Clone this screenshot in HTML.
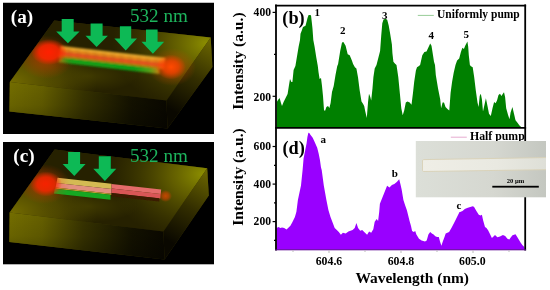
<!DOCTYPE html>
<html><head><meta charset="utf-8"><style>
html,body{margin:0;padding:0;background:#fff;width:550px;height:290px;overflow:hidden}
svg{display:block}
text{font-family:"Liberation Serif","Times New Roman",serif}
</style></head><body>
<svg width="550" height="290" viewBox="0 0 550 290">
<defs>
<clipPath id="cpa"><rect x="3" y="2.5" width="211" height="131.5"/></clipPath>
<clipPath id="cpc"><rect x="3" y="142" width="211" height="122.6"/></clipPath>
<filter id="bl1" x="-10%" y="-10%" width="120%" height="120%"><feGaussianBlur stdDeviation="0.6"/></filter>
<filter id="blr" x="-10%" y="-30%" width="120%" height="160%"><feGaussianBlur stdDeviation="0.9"/></filter>
<filter id="blr2" x="-10%" y="-30%" width="120%" height="160%"><feGaussianBlur stdDeviation="0.5"/></filter>
<filter id="bl2" x="-50%" y="-50%" width="200%" height="200%"><feGaussianBlur stdDeviation="2.5"/></filter>
<filter id="bl3" x="-10%" y="-10%" width="120%" height="120%"><feGaussianBlur stdDeviation="1.5"/></filter>
<radialGradient id="glh"><stop offset="0" stop-color="#ff3000" stop-opacity="0.5"/><stop offset="1" stop-color="#ff3000" stop-opacity="0"/></radialGradient>
<radialGradient id="glh2"><stop offset="0" stop-color="#ff4800" stop-opacity="0.5"/><stop offset="1" stop-color="#ff4800" stop-opacity="0"/></radialGradient>
<radialGradient id="glr"><stop offset="0" stop-color="#ff2000" stop-opacity="1"/><stop offset="0.55" stop-color="#ff2400" stop-opacity="0.85"/><stop offset="1" stop-color="#ff2800" stop-opacity="0"/></radialGradient>
<radialGradient id="glo"><stop offset="0" stop-color="#ff4a00" stop-opacity="1"/><stop offset="0.5" stop-color="#ff4000" stop-opacity="0.7"/><stop offset="1" stop-color="#ff4000" stop-opacity="0"/></radialGradient>
<linearGradient id="ins" x1="0" y1="0" x2="1" y2="0">
 <stop offset="0" stop-color="#dcdfd8"/><stop offset="0.6" stop-color="#d5d7d0"/><stop offset="1" stop-color="#c4c7c0"/>
</linearGradient>
<linearGradient id="irod" x1="0" y1="0" x2="1" y2="0">
 <stop offset="0" stop-color="#efeee6"/><stop offset="0.6" stop-color="#e9e9e1"/><stop offset="1" stop-color="#dedfd7"/>
</linearGradient>

<radialGradient id="hiA"><stop offset="0" stop-color="#8c8e00" stop-opacity="1"/><stop offset="0.35" stop-color="#6e6a00" stop-opacity="0.8"/><stop offset="1" stop-color="#4a4400" stop-opacity="0"/></radialGradient>
<radialGradient id="hiB"><stop offset="0" stop-color="#726a00" stop-opacity="1"/><stop offset="0.55" stop-color="#5a5200" stop-opacity="0.75"/><stop offset="1" stop-color="#4a4400" stop-opacity="0"/></radialGradient>
<radialGradient id="hiC"><stop offset="0" stop-color="#4e4800" stop-opacity="0.6"/><stop offset="1" stop-color="#4e4800" stop-opacity="0"/></radialGradient>
<linearGradient id="fa" gradientUnits="userSpaceOnUse" x1="9" y1="0" x2="167" y2="0">
 <stop offset="0" stop-color="#746e00"/><stop offset="0.21" stop-color="#666000"/><stop offset="0.47" stop-color="#383400"/><stop offset="0.78" stop-color="#141200"/><stop offset="1" stop-color="#0a0800"/>
</linearGradient>
<linearGradient id="raa" gradientUnits="userSpaceOnUse" x1="212.7" y1="42.6" x2="172.5" y2="110.5">
 <stop offset="0" stop-color="#6a6500"/><stop offset="0.5" stop-color="#332e00"/><stop offset="1" stop-color="#0a0800"/></linearGradient>
<linearGradient id="fva" gradientUnits="userSpaceOnUse" x1="0" y1="82" x2="0" y2="128.5">
 <stop offset="0" stop-color="#000" stop-opacity="0"/><stop offset="0.5" stop-color="#000" stop-opacity="0.1"/><stop offset="1" stop-color="#000" stop-opacity="0.35"/></linearGradient><linearGradient id="rac" gradientUnits="userSpaceOnUse" x1="209.2" y1="173.2" x2="169.6" y2="241.5">
 <stop offset="0" stop-color="#6a6500"/><stop offset="0.5" stop-color="#332e00"/><stop offset="1" stop-color="#0a0800"/></linearGradient>
<linearGradient id="fvc" gradientUnits="userSpaceOnUse" x1="0" y1="212.5" x2="0" y2="259.5">
 <stop offset="0" stop-color="#000" stop-opacity="0"/><stop offset="0.5" stop-color="#000" stop-opacity="0.1"/><stop offset="1" stop-color="#000" stop-opacity="0.35"/></linearGradient>
<linearGradient id="grA" gradientUnits="userSpaceOnUse" x1="60" y1="0" x2="160" y2="0">
 <stop offset="0" stop-color="#7a9010"/><stop offset="0.08" stop-color="#16a018"/><stop offset="0.75" stop-color="#109c14"/><stop offset="0.92" stop-color="#60a016"/><stop offset="1" stop-color="#c08810"/>
</linearGradient>

</defs>
<rect width="550" height="290" fill="#fff"/>

<!-- ============ Panel (a) ============ -->
<g clip-path="url(#cpa)">
<rect x="3" y="2.5" width="211" height="131.5" fill="#000"/>

<clipPath id="sila"><polygon points="54.3,20.5 210.7,37.6 212.4,67.0 167.5,128.5 9.4,111.5 9.8,82.0"/></clipPath>
<polygon points="54.3,20.5 210.7,37.6 212.4,67.0 167.5,128.5 9.4,111.5 9.8,82.0" fill="#3a3400"/>
<clipPath id="tca"><polygon points="54.3,20.5 210.7,37.6 166.5,100.6 9.8,82.0"/></clipPath>
<polygon points="54.3,20.5 210.7,37.6 166.5,100.6 9.8,82.0" fill="#262100"/>
<g clip-path="url(#tca)">
 <ellipse cx="206.7" cy="43.6" rx="95" ry="70" fill="url(#hiA)"/>
 <ellipse cx="12" cy="82" rx="85" ry="50" fill="url(#hiB)"/>
 <ellipse cx="88" cy="76" rx="50" ry="16" fill="url(#hiC)"/>
</g>
<polygon points="9.8,82.0 166.5,100.6 167.5,128.5 9.4,111.5" fill="url(#fa)"/>
<polygon points="9.8,82.0 166.5,100.6 167.5,128.5 9.4,111.5" fill="url(#fva)"/>
<polygon points="166.5,100.6 210.7,37.6 212.4,67.0 167.5,128.5" fill="url(#raa)"/>

<g filter="url(#blr)">
<polygon points="60.50,46.00 165.50,58.08 165.25,60.55 59.88,48.43" fill="#f2b030"/>
<polygon points="59.88,48.43 165.25,60.55 164.95,63.51 59.12,51.34" fill="#ea8c1c"/>
<polygon points="59.12,51.34 164.95,63.51 164.55,67.47 58.12,55.23" fill="#e4541e"/>
<polygon points="58.12,55.23 164.55,67.47 164.38,69.15 57.70,56.88" fill="#c8800e"/>
<polygon points="59.70,57.11 159.50,68.58 159.50,73.88 58.38,62.26" fill="url(#grA)"/>
</g>
<g clip-path="url(#sila)">
<ellipse cx="46" cy="57" rx="28" ry="22" fill="url(#glh)"/>
<ellipse cx="172" cy="67" rx="24" ry="19" fill="url(#glh2)"/>
<ellipse cx="49" cy="52" rx="18" ry="13" fill="url(#glr)"/>
<ellipse cx="171" cy="67" rx="15" ry="12.5" fill="url(#glo)"/>
</g>
<g filter="url(#bl1)">
<polygon points="61.7,19.1 73.7,19.1 73.7,31.5 79.6,31.5 67.9,43.2 56.2,31.5 61.7,31.5" fill="#08b955"/>
<polygon points="90.6,23.5 102.6,23.5 102.6,35.7 107.9,35.7 96.6,47 85.5,35.7 90.6,35.7" fill="#08b955"/>
<polygon points="119.9,26.2 131.2,26.2 131.2,38.6 137,38.6 125.7,50.6 114.4,38.6 119.9,38.6" fill="#08b955"/>
<polygon points="146,29.6 157.6,29.6 157.6,41.8 164.2,41.8 152.9,53.7 141.5,41.8 146,41.8" fill="#08b955"/>
</g>
<text x="10.8" y="22.6" font-size="19.2" font-weight="bold" fill="#fff">(a)</text>
<text x="130" y="21.9" font-size="19.1" fill="#1db45c">532 nm</text>
</g>

<!-- ============ Panel (c) ============ -->
<g clip-path="url(#cpc)">
<rect x="3" y="142" width="211" height="122.6" fill="#000"/>

<clipPath id="silc"><polygon points="54.6,149.6 207.2,168.2 208.8,195.5 164.6,259.5 9.3,242.0 9.6,212.5"/></clipPath>
<polygon points="54.6,149.6 207.2,168.2 208.8,195.5 164.6,259.5 9.3,242.0 9.6,212.5" fill="#3a3400"/>
<clipPath id="tcc"><polygon points="54.6,149.6 207.2,168.2 163.4,231.6 9.6,212.5"/></clipPath>
<polygon points="54.6,149.6 207.2,168.2 163.4,231.6 9.6,212.5" fill="#262100"/>
<g clip-path="url(#tcc)">
 <ellipse cx="203.2" cy="174.2" rx="95" ry="70" fill="url(#hiA)"/>
 <ellipse cx="12" cy="212.3" rx="85" ry="50" fill="url(#hiB)"/>
 <ellipse cx="88" cy="206.3" rx="50" ry="16" fill="url(#hiC)"/>
</g>
<polygon points="9.6,212.5 163.4,231.6 164.6,259.5 9.3,242.0" fill="url(#fa)"/>
<polygon points="9.6,212.5 163.4,231.6 164.6,259.5 9.3,242.0" fill="url(#fvc)"/>
<polygon points="163.4,231.6 207.2,168.2 208.8,195.5 164.6,259.5" fill="url(#rac)"/>

<g filter="url(#blr2)">
<polygon points="57.50,177.80 111.50,183.74 111.50,188.94 56.46,182.89" fill="#d4ba52"/>
<polygon points="56.46,182.89 111.50,188.94 111.50,193.74 55.50,187.58" fill="#e2907e"/>
<polygon points="55.50,187.58 111.50,193.74 111.50,194.94 55.26,188.75" fill="#b8a030"/>
<polygon points="54.76,188.70 110.50,194.83 110.50,199.63 53.80,193.39" fill="#14a820"/>
<polygon points="111.50,183.94 161.18,189.40 160.72,193.95 111.50,188.54" fill="#e46c6a"/>
<polygon points="111.50,188.54 160.72,193.95 160.27,198.40 111.50,193.04" fill="#d85656"/>
<polygon points="111.50,193.04 159.20,198.29 159.20,201.49 111.50,196.24" fill="#3a1a00"/>
</g>
<g clip-path="url(#silc)">
<ellipse cx="44" cy="184" rx="26" ry="20" fill="url(#glh)"/>
<ellipse cx="46" cy="184" rx="16" ry="12.5" fill="url(#glr)" opacity="0.9"/>
<ellipse cx="165.5" cy="196" rx="6.5" ry="6" fill="url(#glo)" opacity="0.65"/>
</g>
<g filter="url(#bl1)">
<polygon points="68.1,151.9 80.1,151.9 80.1,164 85.6,164 74.3,176 62.6,164 68.1,164" fill="#08b955"/>
<polygon points="98.8,156.3 110.8,156.3 110.8,168.7 116.3,168.7 104.9,181.1 93.3,168.7 98.8,168.7" fill="#08b955"/>
</g>
<text x="13.3" y="161.8" font-size="19.2" font-weight="bold" fill="#fff">(c)</text>
<text x="130" y="162.2" font-size="19.1" fill="#1db45c">532 nm</text>
</g>

<!-- ============ Plot (b) ============ -->
<path d="M276.5,128 L276.8,102 L278,100 L279.6,98 L281,103 L282,106 L283.6,102 L285.6,98 L287.6,94 L289,85 L290,79 L291.4,82 L292.4,82 L293.6,70 L295.4,66 L298.6,46.7 L300,40 L300.5,33.8 L301.7,30.7 L303,27 L305.5,25.7 L306.5,22 L307.5,18 L308.6,15 L309.6,14.9 L311,15.2 L312,24 L312.5,28.8 L313.3,40 L314.6,46.7 L316.3,57.4 L317.8,66 L318.5,72 L319.6,79 L321,78 L322,86 L323,96 L324,110 L325,111 L326.4,107 L328,106 L329.4,108 L330.6,103 L332,92 L333.7,86 L335.5,75 L337.2,66.2 L338.1,64 L340.2,51 L342,42.5 L343.4,42 L345.6,45.7 L347.7,54.2 L349.7,55.3 L351.9,60.6 L353.1,64 L354.9,67.3 L356.4,68.4 L358,77.2 L359.7,90.5 L361.5,101.5 L363,103.7 L364.2,106 L365.3,111.5 L366.8,118.1 L368.1,101.5 L369,93.8 L370.3,97.1 L371.2,100.4 L372.5,88.3 L373.4,77.2 L374.7,68.4 L376.5,65 L380.1,51 L381.2,36 L382.3,23.2 L383.5,19.5 L385.5,18.8 L387.2,19.8 L388.7,25.4 L390.2,33.9 L391.9,44.6 L392.4,53.1 L393.4,61.7 L395.1,63.8 L396.5,65 L398.3,77.2 L399.8,92.7 L401.3,108.2 L402.7,115.2 L404.2,110.4 L405.8,102.6 L407.5,101.5 L409.7,102.6 L411.5,104.8 L413,92.7 L414.2,81.7 L415.9,70.6 L417,67.3 L418.6,66.2 L420.1,65 L422.3,55.3 L424.4,52.1 L426.5,51.4 L428.7,46.7 L430.2,43.5 L431.5,45.7 L433,55.3 L434,61.7 L435,65 L435.8,75 L438,88.3 L440.2,99.3 L441.1,108.2 L442.6,102.6 L444,102.6 L445.5,107 L447.7,109.3 L449.3,110.4 L450.6,92.7 L452.1,81.7 L453.7,72.8 L455.5,65 L457.1,60.6 L459.2,58.5 L460.9,52.1 L462.4,47.8 L463.9,48.9 L465.2,45.7 L467.4,41.4 L468.2,46.7 L468.8,55.3 L469.9,65 L470.9,66.2 L472.7,67.3 L474.2,77.2 L475.8,90.5 L477.5,102.6 L478.6,107 L479.7,96 L480.8,93.8 L481.9,99.3 L483,111.5 L484.2,106 L485.9,98.2 L487.5,106 L489,113.7 L490.8,115.9 L492.5,108.2 L494.1,102 L495.6,103.3 L497,100.4 L498.5,94.9 L500,93.8 L501.4,96 L502.9,93.8 L504,92.3 L505.1,97.1 L506.2,108.2 L508,114.8 L509.5,119.2 L510.6,112.6 L512.4,107 L514,113.7 L515.5,120.3 L517.3,122.5 L519.5,125.4 L521.2,126.9 L522.8,128 L524.5,128 Z" fill="#008000"/>
<!-- ============ Plot (d) ============ -->
<path d="M276.5,249.8 L276.5,228 L278.5,226.9 L280.4,228 L282,227.6 L284.2,228 L286.5,229.6 L288.1,228 L290.4,225.8 L292.2,222.4 L294.9,217 L296.4,211.8 L297.9,200 L299.6,192 L301,185.5 L302.6,170 L303.6,158.3 L305.1,150.7 L306.6,143.2 L307.4,137.1 L308.4,132.8 L309.3,132.9 L310.4,134.8 L312.7,137.8 L314.9,142.4 L317.2,147.7 L318.7,153.8 L319.9,159.8 L321,167.4 L321.7,170 L323.8,185.5 L326.4,200 L328.4,210 L330.5,217 L332.6,222.5 L334.7,227.9 L336.8,230 L338.8,232 L340.9,234.8 L342.9,232.8 L345.7,233.4 L348.4,231.4 L350.5,230.8 L352.6,230 L354.7,227.9 L356.4,223.1 L358.1,227.9 L360.2,230.7 L362.2,230 L365,232.8 L367.1,234.8 L369.1,231.4 L371.2,232.8 L373.3,229.3 L374.7,221.7 L376.7,219 L378.1,221 L379.2,212 L379.9,203.8 L382.3,197.8 L384.7,191.7 L387.1,185.7 L389.5,187.4 L391.9,185 L394.3,184 L396.8,182.1 L399.2,179.2 L400.4,184 L401.6,189.3 L403.4,200 L405.2,205.5 L406.9,210.3 L408.2,215.5 L409.5,220.7 L411,226 L412.1,231 L413.8,231.9 L415.2,231 L416.4,234.5 L419,238.8 L421.6,240.5 L425,241.4 L426.7,240.5 L428.4,234.5 L430.2,231.9 L431.9,233.6 L433.6,234.5 L435.3,236.2 L437.1,237.1 L438.8,237.1 L440,241.4 L441.4,245.7 L442.8,241.4 L444.5,237.1 L445.7,233.6 L447.4,232.8 L449.1,231.9 L451.7,227.6 L454.3,222.4 L456.9,217.2 L459.5,212.1 L460.2,212.1 L462.5,210.9 L464.8,209 L467.1,208.1 L470.2,207 L472.9,206.2 L474.1,207 L476.4,210.9 L478.8,214.7 L480.6,215.5 L481.9,214.7 L483.1,220.2 L485,227.1 L486.5,227.9 L488.1,230.2 L489.6,233.3 L491.9,237.9 L493.5,236.4 L495,234.9 L497.4,237.2 L500,236.4 L502.9,235 L505.2,236.1 L507.4,238.8 L509.3,239.5 L510.9,237.3 L512.5,235.3 L515.5,234.3 L517.4,237.2 L520.4,242.2 L522.3,245.1 L524.3,247 L524.5,249.8 Z" fill="#9900ff"/>

<!-- axes frames -->
<g stroke="#000" stroke-width="1.8" fill="none">
<line x1="276" y1="4.4" x2="276" y2="250.5"/>
<line x1="525.2" y1="4.4" x2="525.2" y2="250.5"/>
<line x1="275.1" y1="5.6" x2="526.1" y2="5.6"/>
<line x1="275.1" y1="127.9" x2="526.1" y2="127.9"/>
</g>
<line x1="275.1" y1="249.8" x2="526.1" y2="249.8" stroke="#5a0090" stroke-width="1"/>
<!-- y ticks -->
<g stroke="#000" stroke-width="1.2">
<line x1="272.6" y1="12.4" x2="276" y2="12.4"/>
<line x1="274" y1="54.4" x2="276" y2="54.4"/>
<line x1="272.6" y1="96.3" x2="276" y2="96.3"/>
<line x1="272.6" y1="146.5" x2="276" y2="146.5"/>
<line x1="274" y1="165.3" x2="276" y2="165.3"/>
<line x1="272.6" y1="184.1" x2="276" y2="184.1"/>
<line x1="274" y1="202.9" x2="276" y2="202.9"/>
<line x1="272.6" y1="221.6" x2="276" y2="221.6"/>
<line x1="274" y1="240.4" x2="276" y2="240.4"/>
</g>
<g stroke="#bbb" stroke-width="1">
<line x1="293" y1="250.3" x2="293" y2="252"/>
<line x1="329" y1="250.3" x2="329" y2="253"/>
<line x1="365" y1="250.3" x2="365" y2="252"/>
<line x1="401" y1="250.3" x2="401" y2="253"/>
<line x1="437" y1="250.3" x2="437" y2="252"/>
<line x1="473" y1="250.3" x2="473" y2="253"/>
<line x1="509" y1="250.3" x2="509" y2="252"/>
</g>
<g font-weight="bold" font-size="11.6" text-anchor="end">
<text x="271" y="15.8">400</text>
<text x="271" y="100.8">200</text>
<text x="271" y="150.2">600</text>
<text x="271" y="187.5">400</text>
<text x="271" y="225.2">200</text>
</g>
<g font-weight="bold" font-size="11.8" text-anchor="middle">
<text x="329" y="265.2">604.6</text>
<text x="401" y="265.2">604.8</text>
<text x="472.3" y="265.2">605.0</text>
</g>
<text x="412.2" y="282.8" font-weight="bold" font-size="15.45" text-anchor="middle">Wavelength (nm)</text>
<text transform="translate(243.4,61.1) rotate(-90)" font-weight="bold" font-size="15.6" text-anchor="middle">Intensity (a.u.)</text>
<text transform="translate(243.4,177) rotate(-90)" font-weight="bold" font-size="15.6" text-anchor="middle">Intensity (a.u.)</text>

<!-- plot b labels -->
<text x="282.3" y="24.4" font-weight="bold" font-size="18.3">(b)</text>
<g font-weight="bold" font-size="11">
<text x="314.5" y="16.4">1</text>
<text x="340" y="34.3">2</text>
<text x="382" y="19">3</text>
<text x="428.6" y="39.3">4</text>
<text x="463.6" y="38.1">5</text>
</g>
<line x1="417.8" y1="15.4" x2="433.8" y2="15.4" stroke="#98cc98" stroke-width="1"/>
<text x="437" y="18" font-weight="bold" font-size="11.5">Uniformly pump</text>

<!-- plot d labels -->
<text x="282.5" y="153.9" font-weight="bold" font-size="18.3">(d)</text>
<g font-weight="bold" font-size="11">
<text x="320.6" y="142.5">a</text>
<text x="391.8" y="177.2">b</text>
<text x="456.5" y="209.3">c</text>
</g>
<line x1="450.8" y1="137.2" x2="466.8" y2="137.2" stroke="#e6acd0" stroke-width="1"/>
<text x="470" y="140" font-weight="bold" font-size="11.8">Half pump</text>

<!-- inset -->
<rect x="415.8" y="141" width="130.2" height="56.3" fill="url(#ins)"/>
<path d="M546,157.6 L423.6,159.6 Q422.5,159.6 422.5,160.8 L422.5,170.3 Q422.5,171.5 423.6,171.5 L546,169.7 Z" fill="url(#irod)"/>
<path d="M546,157.6 L423.6,159.6 Q422.5,159.6 422.5,160.8 L422.5,170.3 Q422.5,171.5 423.6,171.5 L546,169.7" fill="none" stroke="#d8d0b6" stroke-width="0.9"/>
<rect x="492.3" y="185.8" width="46.5" height="1.8" fill="#000"/>
<text x="515.4" y="182.6" font-size="6.6" text-anchor="middle" font-weight="bold">20 μm</text>
</svg>
</body></html>
